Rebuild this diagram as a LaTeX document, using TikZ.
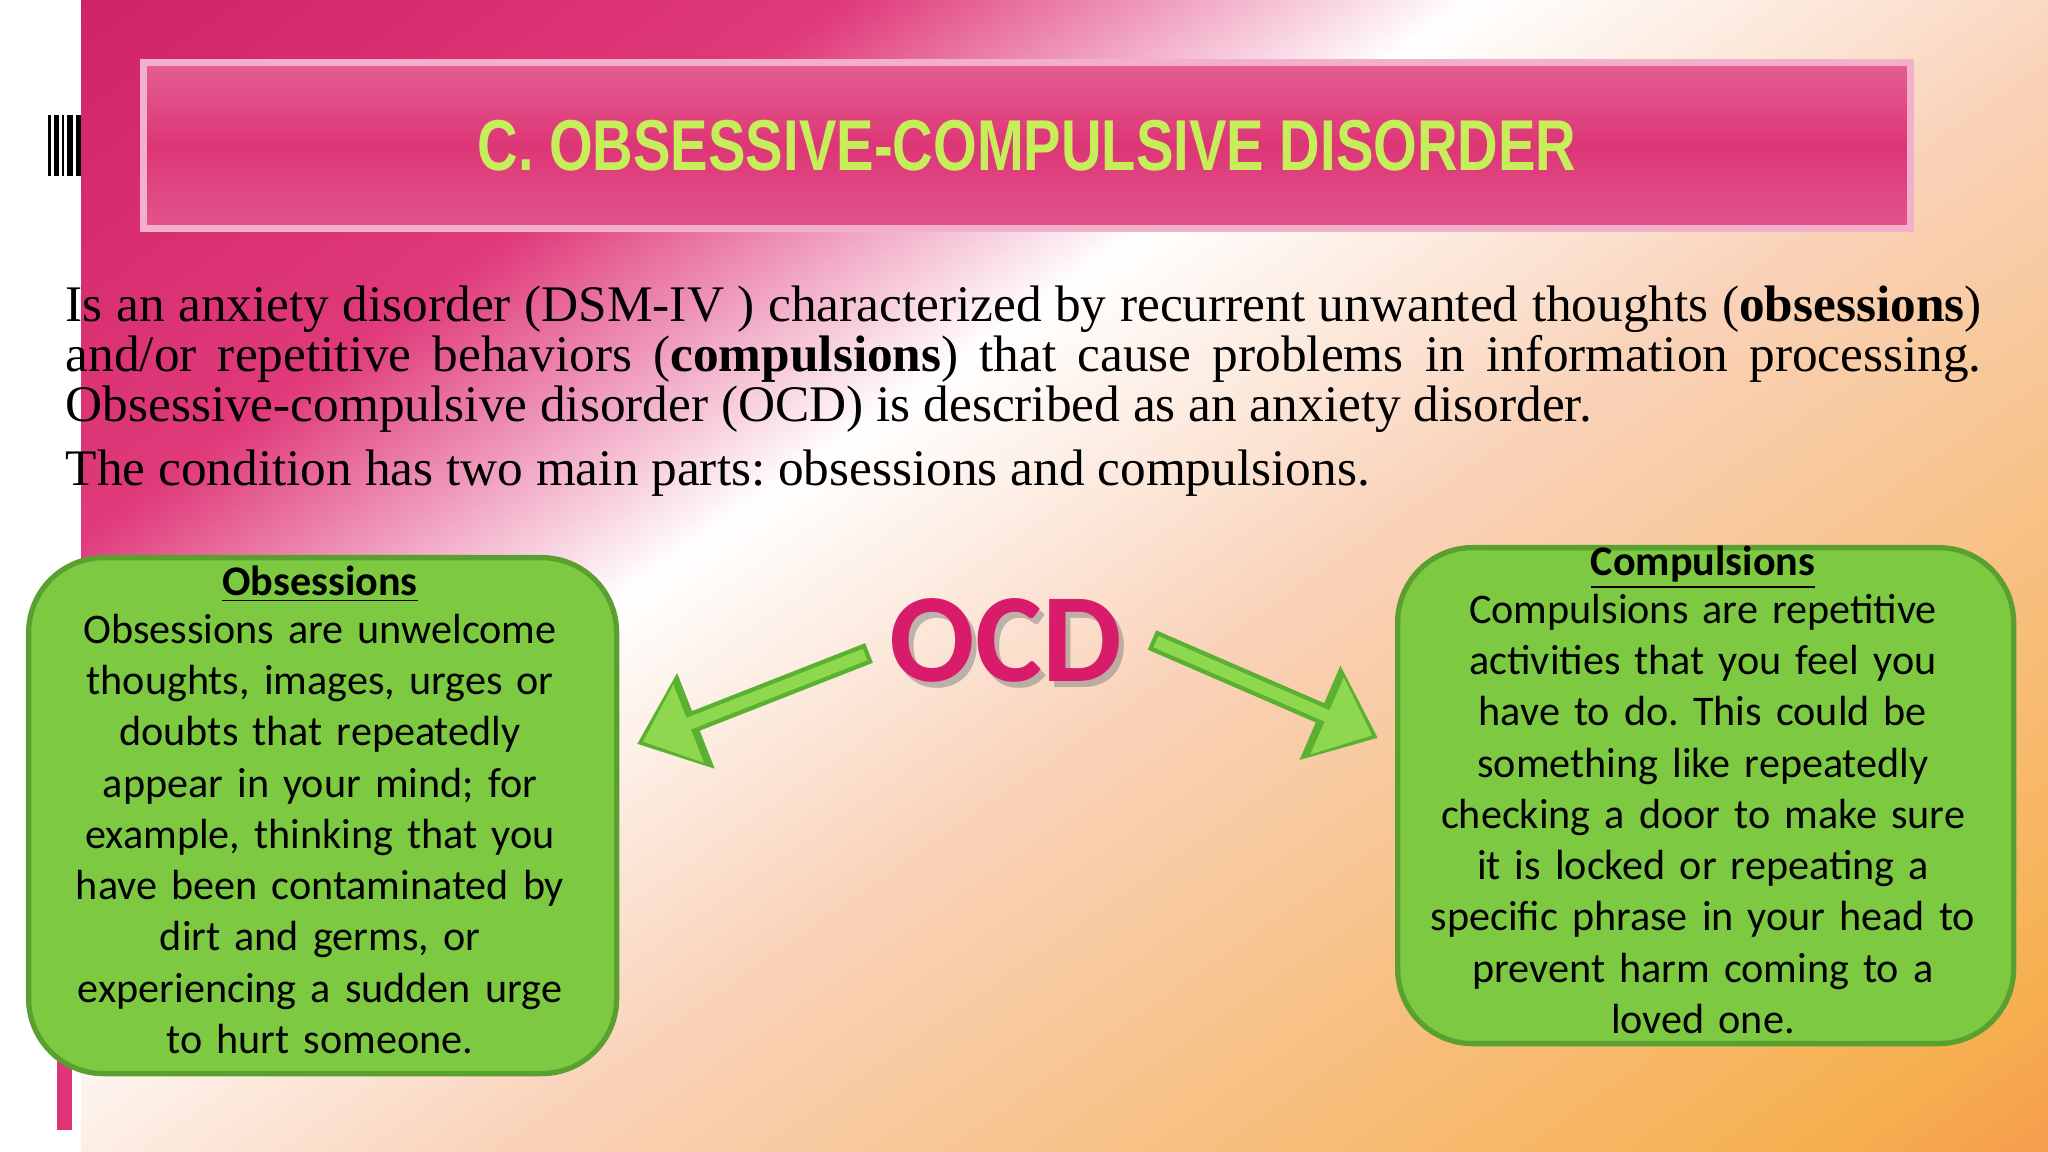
\documentclass[tikz,border=0pt]{standalone}
\usepackage{fontspec}
\setmainfont{Liberation Serif}
\newfontfamily\carlitofam{Carlito}
\newfontfamily\herosfam{Liberation Sans}
\usetikzlibrary{arrows.meta,shadows}
\definecolor{magC}{HTML}{C00A55}
\definecolor{pinkC}{HTML}{E03A7A}
\definecolor{peachC}{HTML}{F9D2B8}
\definecolor{orangeC}{HTML}{F6B050}
\definecolor{redC}{HTML}{F46040}
\definecolor{boxG}{HTML}{7DCA42}
\definecolor{boxB}{HTML}{5AA030}
\definecolor{arrG}{HTML}{8ED850}
\definecolor{arrB}{HTML}{5AB030}
\definecolor{titleT}{HTML}{C6EE5A}
\definecolor{ocdC}{HTML}{D81B6A}
\pgfdeclarehorizontalshading{bgsh}{100bp}{color(0bp)=(magC); color(30bp)=(pinkC); color(42bp)=(white); color(55bp)=(peachC); color(80bp)=(orangeC); color(100bp)=(redC)}
\pgfdeclareverticalshading{titlesh}{100bp}{color(0bp)=(pinkC!70!white); color(50bp)=(pinkC!90!magC); color(100bp)=(pinkC!60!white)}
\tikzset{
 gbox/.style={draw=boxB, line width=1.5pt, fill=boxG, rounded corners=0.75cm, align=center, inner sep=0pt},
 gtext/.style={anchor=north, align=center, font=\carlitofam\fontsize{12}{14.6}\selectfont, inner sep=0pt},
 farrowb/.style={draw=arrB, line width=6pt, -{Triangle[length=18pt,width=28pt]}},
 farrow/.style={draw=arrG, line width=3.5pt, -{Triangle[length=14pt,width=23pt]}, shorten >=1.8pt, shorten <=1.2pt},
}
\begin{document}
\frenchspacing
\begin{tikzpicture}
\useasboundingbox (0,0) rectangle (20.48,11.52);
\fill[white] (0,0) rectangle (20.48,11.52);
\shade[shading=bgsh, shading angle=-55] (0.81,0) rectangle (20.48,11.52);
% left icons
\foreach \x/\w in {0.48/0.03,0.54/0.05,0.62/0.02,0.67/0.06,0.76/0.05}
  \fill[black] (\x,9.76) rectangle ++(\w,0.61);
\fill[pinkC!90!magC] (0.57,0.22) rectangle (0.72,0.97);
% title
\node[draw=pinkC!40!white, line width=2pt, shading=titlesh, minimum width=17.67cm, minimum height=1.66cm, anchor=north west] (title) at (1.40,10.93) {};
\node[font=\herosfam\bfseries\fontsize{20.5}{20.5}\selectfont, text=titleT, xscale=0.78] (tt) at (title.center) {C. OBSESSIVE-COMPULSIVE DISORDER};
% paragraph
\node[anchor=north west, text width=19.16cm, align=justify, inner sep=0pt, font=\fontsize{14.6}{14.2}\selectfont] (para) at (0.65,8.67) {Is an anxiety disorder (DSM-IV ) characterized by recurrent unwanted thoughts (\textbf{obsessions}) and/or repetitive behaviors (\textbf{compulsions}) that cause problems in information processing. Obsessive-compulsive disorder (OCD) is described as an anxiety disorder.\par};
\node[anchor=north west, inner sep=0pt, font=\fontsize{14.6}{14.2}\selectfont] (cond) at (0.65,7.03) {The condition has two main parts: obsessions and compulsions.};
% boxes
\node[gbox, minimum width=5.88cm, minimum height=5.16cm, anchor=north west] (obs) at (0.26,5.97) {};
\node[gtext, text width=5.6cm] (obst) at (3.20,5.87) {\textbf{\underline{Obsessions}}\\[-1pt]Obsessions are unwelcome\\thoughts, images, urges or\\doubts that repeatedly\\appear in your mind; for\\example, thinking that you\\have been contaminated by\\dirt and germs, or\\experiencing a sudden urge\\to hurt someone.};
\node[gbox, minimum width=6.16cm, minimum height=4.96cm, anchor=north west] (com) at (13.95,6.07) {};
\node[gtext, text width=6cm] (comt) at (17.03,6.07) {\textbf{\underline{Compulsions}}\\[-1pt]Compulsions are repetitive\\activities that you feel you\\have to do. This could be\\something like repeatedly\\checking a door to make sure\\it is locked or repeating a\\specific phrase in your head to\\prevent harm coming to a\\loved one.};
% OCD
\node[font=\carlitofam\bfseries\fontsize{36}{36}\selectfont, text=black!50, opacity=0.5] at (10.11,5.06) {OCD};
\node[font=\carlitofam\bfseries\fontsize{36}{36}\selectfont, text=ocdC] (ocd) at (10.06,5.12) {OCD};
\coordinate (la) at (8.69,4.99); \coordinate (lb) at (6.37,4.08);
\coordinate (ra) at (11.52,5.12); \coordinate (rb) at (13.78,4.14);
\draw[farrowb] (la) -- (lb);
\draw[farrow] (la) -- (lb);
\draw[farrowb] (ra) -- (rb);
\draw[farrow] (ra) -- (rb);
\end{tikzpicture}
\end{document}
